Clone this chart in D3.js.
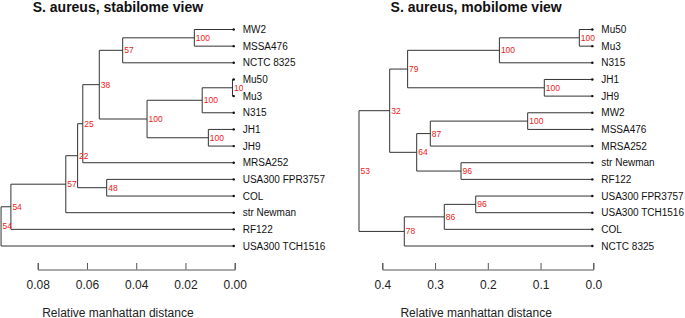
<!DOCTYPE html>
<html>
<head>
<meta charset="utf-8">
<script src="https://cdn.jsdelivr.net/npm/d3@7"></script>
<style>
  body { margin: 0; background: #fff; }
  svg { display: block; font-family: "Liberation Sans", Arial, Helvetica, sans-serif; }
</style>
</head>
<body>
<div id="chart"></div>
<script>
// hclust style merges: -k = leaf k (1-based), +k = merge k
const leavesStab = ['MW2', 'MSSA476', 'NCTC 8325', 'Mu50', 'Mu3', 'N315', 'JH1', 'JH9',
  'MRSA252', 'USA300 FPR3757', 'COL', 'str Newman', 'RF122', 'USA300 TCH1516'];
const mergeStab = [[-1, -2], [1, -3], [-4, -5], [3, -6], [-7, -8], [4, 5], [2, 6],
  [7, -9], [-10, -11], [8, 9], [10, -12], [11, -13], [12, -14]];
const heightStab = [0.0164, 0.0455, 0.0009, 0.0132, 0.0107, 0.0356, 0.0550,
  0.0617, 0.0520, 0.0638, 0.0686, 0.0909, 0.0949];
const bootStab = [100, 57, 100, 100, 100, 100, 38, 25, 48, 22, 57, 54, 54];
const ticksStab = [0.08, 0.06, 0.04, 0.02, 0.00];

const leavesMob = ['Mu50', 'Mu3', 'N315', 'JH1', 'JH9', 'MW2', 'MSSA476', 'MRSA252',
  'str Newman', 'RF122', 'USA300 FPR3757', 'USA300 TCH1516', 'COL', 'NCTC 8325'];
const mergeMob = [[-1, -2], [1, -3], [-4, -5], [2, 3], [-6, -7], [5, -8], [-9, -10],
  [6, 7], [4, 8], [-11, -12], [10, -13], [11, -14], [9, 12]];
const heightMob = [0.0265, 0.178, 0.0929, 0.352, 0.1244, 0.309, 0.2508,
  0.3348, 0.386, 0.2229, 0.2825, 0.3583, 0.4442];
const bootMob = [100, 100, 100, 79, 100, 87, 96, 64, 32, 96, 86, 78, 53];
const ticksMob = [0.4, 0.3, 0.2, 0.1, 0.0];

const W = 685, H = 318;
const svg = d3.select('#chart').append('svg').attr('width', W).attr('height', H);

const lineCol = '#333';
const red = '#ee2020';

function drawTree(opt) {
  const { leaves, merges, heights, boot, ticks, title, x0, pxPerUnit, id } = opt;
  const maxH = d3.max(heights);

  const x = d3.scaleLinear().domain([0, maxH]).range([x0, x0 - maxH * pxPerUnit]);
  const y = d3.scalePoint().domain(leaves).range([29.5, 246]);

  const g = svg.append('g');

  // node positions
  const nodes = [];
  const pos = k => k < 0 ? { x: x(0), y: y(leaves[-k - 1]) } : nodes[k - 1];
  merges.forEach((m, i) => {
    const a = pos(m[0]), b = pos(m[1]);
    const nx = x(heights[i]);
    nodes.push({ x: nx, y: (a.y + b.y) / 2, a, b, boot: boot[i] });
  });

  const branches = g.append('g')
    .attr('fill', 'none')
    .attr('stroke', lineCol)
    .attr('stroke-width', 1);

  branches.selectAll('path')
    .data(nodes)
    .join('path')
    .attr('d', d => `M${d.a.x},${d.a.y}H${d.x}V${d.b.y}H${d.b.x}`);

  // leaf dots
  g.append('g').selectAll('circle')
    .data(leaves)
    .join('circle')
    .attr('cx', x(0) - 1)
    .attr('cy', d => y(d))
    .attr('r', 1.2)
    .attr('fill', '#111');

  // leaf labels
  g.append('g').selectAll('text')
    .data(leaves)
    .join('text')
    .attr('x', x(0) + 8)
    .attr('y', d => y(d))
    .attr('dy', '0.35em')
    .attr('font-size', 10)
    .attr('fill', '#111')
    .text(d => d);

  // bootstrap labels, clipped at the plot edge like R does
  const clipId = 'clip-' + id;
  svg.append('clipPath').attr('id', clipId)
    .append('rect')
    .attr('x', 0).attr('y', 0)
    .attr('width', x(0) + 8.5).attr('height', H);

  g.append('g')
    .attr('clip-path', `url(#${clipId})`)
    .selectAll('text')
    .data(nodes)
    .join('text')
    .attr('x', d => d.x + 1.5)
    .attr('y', d => d.y)
    .attr('dy', '0.35em')
    .attr('font-size', 8.5)
    .attr('fill', red)
    .text(d => d.boot);

  // axis
  const axisScale = x.copy()
    .domain([ticks[0], 0])
    .range([x(ticks[0]), x(0)]);
  const axis = d3.axisBottom(axisScale)
    .tickValues(ticks)
    .tickSizeInner(-6.5)
    .tickSizeOuter(-6.5)
    .tickPadding(10.5)
    .tickFormat(d3.format(ticks[0] < 0.1 ? '.2f' : '.1f'));

  const ax = g.append('g')
    .attr('transform', 'translate(0,269.5)')
    .call(axis);
  ax.select('.domain').attr('stroke', '#555');
  ax.selectAll('.tick line').attr('stroke', '#555');
  ax.selectAll('.tick text')
    .attr('font-size', 12)
    .attr('font-family', '"Liberation Sans", Arial, sans-serif')
    .attr('fill', '#222');

  const cx = (x(maxH) + x(0)) / 2;
  g.append('text')
    .attr('x', cx)
    .attr('y', 316.5)
    .attr('text-anchor', 'middle')
    .attr('font-size', 12)
    .attr('fill', '#222')
    .text('Relative manhattan distance');

  g.append('text')
    .attr('x', cx)
    .attr('y', 11.5)
    .attr('text-anchor', 'middle')
    .attr('font-size', 14)
    .attr('font-weight', 'bold')
    .attr('fill', '#111')
    .text(title);
}

drawTree({
  id: 'stab', leaves: leavesStab, merges: mergeStab, heights: heightStab, boot: bootStab,
  ticks: ticksStab, title: 'S. aureus, stabilome view', x0: 234.7, pxPerUnit: 2462
});

drawTree({
  id: 'mob', leaves: leavesMob, merges: mergeMob, heights: heightMob, boot: bootMob,
  ticks: ticksMob, title: 'S. aureus, mobilome view', x0: 593.3, pxPerUnit: 527.5
});
</script>
</body>
</html>
